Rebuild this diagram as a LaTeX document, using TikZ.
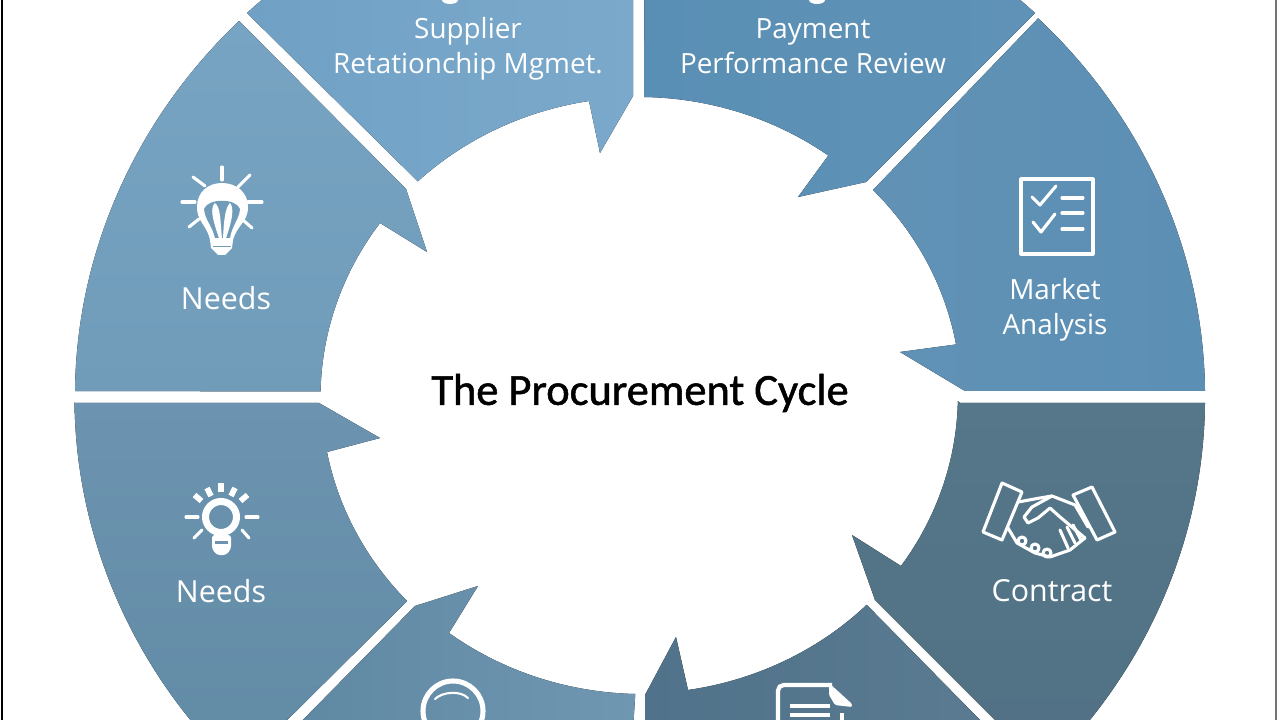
\documentclass[tikz,border=0pt]{standalone}
\usepackage{fontspec}
\setmainfont{Open Sans}
\newfontfamily\titlefont[FakeBold=1.2]{Carlito}
\definecolor{supplierL}{HTML}{70A1C5}
\definecolor{supplierR}{HTML}{7BA9CB}
\definecolor{paymentL}{HTML}{5A8FB5}
\definecolor{paymentR}{HTML}{5F92B6}
\definecolor{marketL}{HTML}{5C8FB4}
\definecolor{marketR}{HTML}{6192B6}
\definecolor{contractT}{HTML}{557789}
\definecolor{contractB}{HTML}{517085}
\definecolor{docL}{HTML}{50728A}
\definecolor{docR}{HTML}{5A7B91}
\definecolor{lensL}{HTML}{5F88A3}
\definecolor{lensR}{HTML}{7097B2}
\definecolor{needsT}{HTML}{78A4C3}
\definecolor{needsB}{HTML}{709CBA}
\definecolor{lowT}{HTML}{6C94B0}
\definecolor{lowB}{HTML}{618AA5}
\begin{document}
\begin{tikzpicture}[x=0.025cm,y=-0.025cm,
    innerring/.style={x radius=8cm,y radius=7.5cm},
    outerring/.style={x radius=14.125cm,y radius=13.325cm},
    label/.style={align=center,text=white,inner sep=0pt,font=\fontsize{19.8}{25}\selectfont},
    biglabel/.style={label,font=\fontsize{21.6}{25}\selectfont},
    iconline/.style={draw=white,line width=2.2pt,line cap=round,line join=round},
    thinline/.style={draw=white,line width=1.5pt,line cap=round,line join=round}]
   \path[use as bounding box,clip] (0,0) rectangle (1280,720);
   \fill[white] (0,0) rectangle (1280,720);
   % segments
   \fill[left color=paymentL,right color=paymentR] (644,97) arc[innerring,start angle=89,end angle=53.6] -- (798,197) -- (866,182) -- (1035,13) arc[outerring,start angle=45.9,end angle=90] -- (645,-136) -- cycle;
   \fill[left color=supplierL,right color=supplierR] (633,96) -- (600,153) -- (589,101) arc[innerring,start angle=99.2,end angle=134] -- (247,13) arc[outerring,start angle=134,end angle=90] -- (633,-136) -- cycle;
   \fill[left color=marketR,right color=marketL] (873,190) arc[innerring,start angle=43.5,end angle=10] -- (900,352) -- (965,391) -- (1205,391) arc[outerring,start angle=0.6,end angle=45.2] -- cycle;
   \fill[top color=contractT,bottom color=contractB] (960,403) -- (1205,403) arc[outerring,start angle=-0.6,end angle=-46] -- (1005,730) -- (875,600) -- (852,535) -- (901,566) arc[innerring,start angle=-34.7,end angle=-1.1] -- cycle;
   \fill[left color=docL,right color=docR] (645,695) -- (676,637) -- (688,690) arc[innerring,start angle=278.7,end angle=315.2] -- (980,720) -- (990,730) -- (645,730) -- cycle;
   \fill[left color=lensL,right color=lensR] (415,606) -- (478,586) -- (449,633) arc[innerring,start angle=232.8,end angle=268.7] -- (633,730) -- (293,730) -- cycle;
   \fill[top color=lowT,bottom color=lowB] (75,403) -- (319,403) -- (380,438) -- (327,452) arc[innerring,start angle=190.6,end angle=222.9] -- (267,740) -- (247,780) arc[outerring,start angle=226,end angle=180.6] -- cycle;
   \fill[top color=needsT,bottom color=needsB] (75,391) arc[outerring,start angle=179.4,end angle=135.2] -- (406,189) -- (427,252) -- (380,223) arc[innerring,start angle=144.5,end angle=178.9] -- cycle;
   % frame
   \draw[line width=1.3pt,black] (2,-5) -- (2,725);
   \draw[line width=1.8pt,black!55] (1276,-5) -- (1276,725);
   % texts
   \node[font=\titlefont\fontsize{31.6}{36}\selectfont,inner sep=0pt] (title) at (640,393) {The Procurement Cycle};
   \node[label] (supplier) at (468,49) {Supplier\\Retationchip Mgmet.};
   \node[label] (payment) at (813,46) {Payment\\Performance Review};
   \node[label] (market) at (1055,310) {Market\\Analysis};
   \node[biglabel] (contract) at (1052,591) {Contract};
   \node[biglabel] (needsA) at (226,298) {Needs};
   \node[biglabel] (needsB) at (221,591) {Needs};
   % cut off icons
   \fill[white] (450,0) ellipse [x radius=8,y radius=4];
   \fill[white] (817,0) ellipse [x radius=8,y radius=4];
   % bulb upper
   \foreach \xa/\ya/\xb/\yb in {222/167/222/180,193/177/205/186,250/175/238/187,182/202/195/202,248/202/262/202,189/227/199/219,252/228/243/220}
     \draw[iconline] (\xa,\ya) -- (\xb,\yb);
   \fill[white] (210,240) .. controls (207,225) and (197,222) .. (197,207) .. controls (197,192) and (208,183) .. (222,183) .. controls (236,183) and (248,192) .. (248,207) .. controls (248,222) and (237,225) .. (233,240) -- (232,248) -- (225,255) -- (218,255) -- (211,248) -- cycle;
   \fill[needsB] (204,209) .. controls (208,198) and (236,198) .. (240,209) .. controls (239,220) and (232,225) .. (230,238) -- (215,238) .. controls (212,225) and (205,220) .. (204,209) -- cycle;
   \fill[white] (215,203) .. controls (210,208) and (212,218) .. (219,238) -- (222,238) .. controls (220,220) and (221,208) .. (215,203) -- cycle;
   \fill[white] (230,203) .. controls (234,208) and (233,218) .. (226,238) -- (223,238) .. controls (224,220) and (225,208) .. (230,203) -- cycle;
   \draw[needsB,line width=0.6pt] (213,246) -- (231,246);
   % bulb lower
   \draw[white,line width=5pt] (221,517) circle [radius=15.5];
   \foreach \xa/\ya/\xb/\yb in {201.5/501/194.5/495,211/496/207/488,221/491.5/221/482.5,231/496/235/488,240.5/501/247.5/495}
     \draw[white,line width=4pt] (\xa,\ya) -- (\xb,\yb);
   \foreach \xa/\ya/\xb/\yb in {186/517/198/517,246/517/258/517,194/538/202/530,249/538/242/530}
     \draw[iconline] (\xa,\ya) -- (\xb,\yb);
   \fill[white,rounded corners=2pt] (212,535) -- (231,535) -- (231,549) -- (226,555) -- (217,555) -- (212,549) -- cycle;
   \fill[lowT] (215,541) rectangle (228,544);
   % checklist
   \draw[iconline] (1021,179) rectangle (1093,254);
   \draw[iconline] (1032,197) -- (1040,205) -- (1056,186);
   \draw[iconline] (1033,222) -- (1041,232) -- (1055,214);
   \foreach \ya in {198,213,229}
     \draw[iconline] (1062,\ya) -- (1083,\ya);
   % handshake
   \draw[iconline] (1002,483) -- (1022,492) -- (1002,540) -- (983,532) -- cycle;
   \draw[iconline] (1073,495) -- (1092,487) -- (1115,532) -- (1097,540) -- cycle;
   \draw[iconline] (1018,502) -- (1040,498) -- (1052,496) -- (1075,505) -- (1088,527);
   \draw[iconline] (1052,496) -- (1032,507) -- (1024,517) -- (1028,523) -- (1038,518) -- (1050,508) -- (1060,517) -- (1085,538);
   \draw[iconline] (1085,538) -- (1070,550) -- (1050,557) -- (1035,553) -- (1017,543) -- (1008,528);
   \foreach \xa/\ya/\xb/\yb in {1060/530/1068/548,1067/527/1075/543,1073/525/1081/540}
     \draw[iconline] (\xa,\ya) -- (\xb,\yb);
   \foreach \xa/\ya in {1022/541,1035/548,1047/553}
     \draw[iconline] (\xa,\ya) circle [radius=4];
   % lens
   \draw[white,line width=3.6pt] (453,711) circle [radius=30];
   \draw[thinline] (435,699) .. controls (442,692) and (460,690) .. (468,698);
   % document
   \draw[white,line width=3pt,rounded corners=4pt] (778,730) -- (778,685) -- (832,685);
   \fill[white,rounded corners=1pt] (829,683) -- (852,704) -- (852,707) -- (835,705) -- (829,695) -- cycle;
   \draw[iconline,line width=3pt,line cap=butt] (790,706) -- (830,706);
   \draw[iconline,line width=3pt,line cap=butt] (790,715) -- (830,715);
   \draw[iconline,line width=3pt,line cap=butt] (842,713) -- (842,730);
 \end{tikzpicture}
\end{document}
